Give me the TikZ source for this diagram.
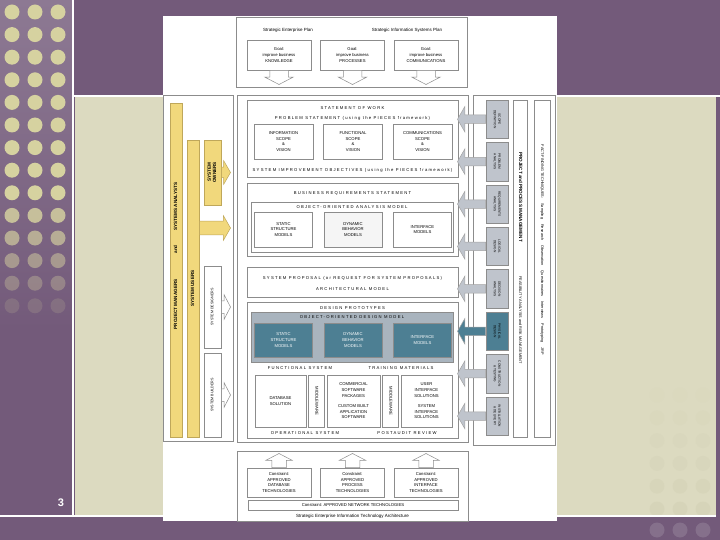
\documentclass[tikz,border=0pt]{standalone}
\usepackage{fontspec}
\setmainfont{Liberation Sans}
\newfontfamily\spacedfont[LetterSpace=30]{Liberation Sans}
\usepackage{graphicx}
\usetikzlibrary{shapes.geometric, shapes.arrows, positioning}

% colours
\definecolor{slidepurple}{HTML}{735A7A}
\definecolor{striptop}{HTML}{8D7993}
\definecolor{stripmid}{HTML}{A797AB}
\definecolor{slidebeige}{HTML}{DCDAC0}
\definecolor{dotkhaki}{HTML}{D6D2A0}
\definecolor{dotbeige}{HTML}{CBC9AC}
\definecolor{dotpurple}{HTML}{85708B}
\definecolor{framegray}{HTML}{8C8C8C}
\definecolor{phasegray}{HTML}{BFC4CC}
\definecolor{tealbox}{HTML}{4D7F93}
\definecolor{designbg}{HTML}{A9B4BE}
\definecolor{roleyellow}{HTML}{F1D87C}
\definecolor{roleedge}{HTML}{BFA75A}

\newcommand{\vtext}[2]{\rotatebox{#1}{\begin{tabular}{@{}c@{}}#2\end{tabular}}}
\newcommand{\boxfont}{\fontsize{4.2}{5.8}\selectfont}
\newcommand{\headfont}{\fontsize{4.2}{5}\spacedfont}

\tikzstyle{frame} = [draw=framegray, line width=0.6pt]
\tikzstyle{box} = [rectangle, draw=framegray, fill=white, line width=0.5pt, inner sep=0pt, align=center, font=\boxfont]
\tikzstyle{stage} = [box, minimum width=211pt]
\tikzstyle{goalbox} = [box, minimum width=64pt, minimum height=30pt]
\tikzstyle{scopebox} = [box, minimum width=59pt, minimum height=35pt]
\tikzstyle{modelbox} = [box, minimum width=58pt, minimum height=35pt]
\tikzstyle{tealmodel} = [box, fill=tealbox, text=white, minimum width=58pt, minimum height=34pt]
\tikzstyle{constraintbox} = [box, minimum width=64pt, minimum height=29pt]
\tikzstyle{heading} = [inner sep=0pt, font=\headfont]
\tikzstyle{caption} = [inner sep=0pt, font=\fontsize{4.5}{5.5}\selectfont]
\tikzstyle{rolebar} = [rectangle, draw=roleedge, fill=roleyellow, line width=0.5pt, inner sep=0pt, minimum width=12pt, font=\bfseries\fontsize{4.6}{5.2}\selectfont]
\tikzstyle{rolebox} = [rectangle, draw=framegray, fill=white, line width=0.5pt, inner sep=0pt, minimum width=17pt, font=\fontsize{3.6}{4.4}\selectfont]
\tikzstyle{phase} = [rectangle, draw=framegray, fill=phasegray, line width=0.5pt, inner sep=0pt, minimum width=22pt, minimum height=38.5pt, font=\fontsize{3.2}{4.5}\selectfont]
\tikzstyle{strip} = [rectangle, draw=framegray, fill=white, line width=0.5pt, inner sep=0pt, minimum height=337pt]
\tikzstyle{striptext} = [inner sep=0pt, font=\fontsize{3.8}{4.5}\selectfont]
\tikzstyle{blockarrow} = [single arrow, inner xsep=0pt, line width=0.5pt, single arrow tip angle=120, anchor=tail]
\tikzstyle{phasearrow} = [blockarrow, draw=framegray!80, fill=phasegray, inner ysep=4pt, single arrow head extend=8.5pt, minimum height=28pt, rotate=180]
\tikzstyle{hollowarrow} = [blockarrow, draw=framegray, fill=white, single arrow tip angle=125, minimum height=14pt]
\tikzstyle{yellowarrow} = [blockarrow, draw=roleedge, fill=roleyellow]

\begin{document}
\begin{tikzpicture}[x=1pt, y=-1pt]
\useasboundingbox (0,0) rectangle (720,540);

% Slide background
\fill[slidepurple] (0,0) rectangle (720,540);
\fill[slidebeige] (75,97) rectangle (716,515);
\shade[top color=striptop, middle color=stripmid, bottom color=slidepurple] (0,0) rectangle (72,330);
\foreach \row in {0,...,13} {
  \pgfmathsetmacro\fade{min(1,(14-\row)/6)}
  \foreach \col in {12,35,58}
    \fill[dotkhaki, opacity=\fade] (\col,{12+22.6*\row}) circle (7.5pt);
}
\foreach \row in {0,...,5} {
  \pgfmathsetmacro\fade{0.05+0.05*\row}
  \foreach \col in {657,680,703}
    \fill[dotbeige, opacity=\fade] (\col,{395+22.8*\row}) circle (7.5pt);
}
\foreach \col in {657,680,703}
  \fill[dotpurple] (\col,530) circle (7.5pt);
\draw[white, line width=2pt] (73,0) -- (73,516);
\draw[white, line width=2pt] (74,96) -- (720,96);
\draw[white, line width=2pt] (0,516) -- (716,516);
\node[text=white, font=\bfseries\fontsize{11}{12}\selectfont] (pagenum) at (61,503) {3};

% Diagram sheet
\fill[white] (163,16) rectangle (557,521);

% Strategic plans
\draw[frame] (236,17) rectangle (467,87);
\node[caption] (entplan) at (288,30) {Strategic Enterprise Plan};
\node[caption] (isplan) at (407,30) {Strategic Information Systems Plan};
\node[goalbox] (goalproc) at (352.5,55) {Goal:\\improve business\\PROCESSES};
\node[goalbox, left=9pt of goalproc] (goalknow) {Goal:\\improve business\\KNOWLEDGE};
\node[goalbox, right=9pt of goalproc] (goalcomm) {Goal:\\improve business\\COMMUNICATIONS};
\foreach \g in {goalknow, goalproc, goalcomm}
  \node[hollowarrow, inner ysep=9pt, single arrow head extend=5pt, rotate=-90] (\g arrow) at (\g.south) {};

% Roles
\draw[frame] (163,95) rectangle (233,441);
\node[rolebar, minimum height=334pt] (pmsa) at (176,270) {};
\node[rolebar, draw=none, fill=none] (pmsatext) at (176,256) {\vtext{90}{PROJECT MANAGERS\hspace{26pt}and\hspace{15pt}SYSTEMS ANALYSTS}};
\node[rolebar, minimum height=297pt] (users) at (193,288.5) {\vtext{90}{SYSTEM USERS}};
\node[rolebar, minimum width=17pt, minimum height=65pt] (owners) at (212.5,172.5) {\vtext{90}{SYSTEM\\OWNERS}};
\node[rolebox, minimum height=82pt] (designers) at (212.5,307) {\vtext{90}{SYSTEM DESIGNERS}};
\node[rolebox, minimum height=84pt] (builders) at (212.5,395) {\vtext{90}{SYSTEM BUILDERS}};
\node[yellowarrow, inner ysep=5pt, single arrow head extend=6.5pt, minimum height=9pt] (ownersarrow) at (owners.east) {};
\node[yellowarrow, inner ysep=6.5pt, single arrow head extend=5.5pt, minimum height=31pt] (usersarrow) at ([yshift=60.5pt]users.east) {};
\node[hollowarrow, inner ysep=6pt, single arrow head extend=6pt, minimum height=9pt] (designersarrow) at (designers.east) {};
\node[hollowarrow, inner ysep=6pt, single arrow head extend=6pt, minimum height=9pt] (buildersarrow) at (builders.east) {};

% Statement of work
\draw[frame] (237,95) rectangle (468,442);
\node[stage, minimum height=77pt] (sow) at (352.5,138.5) {};
\node[heading] (sowtitle) at (352.5,108) {STATEMENT OF WORK};
\node[heading] (problem) at (352.5,118) {PROBLEM STATEMENT (using the PIECES framework)};
\node[scopebox] (funcscope) at (353,141.5) {FUNCTIONAL\\SCOPE\\\&\\VISION};
\node[scopebox, left=10pt of funcscope] (infoscope) {INFORMATION\\SCOPE\\\&\\VISION};
\node[scopebox, right=10pt of funcscope] (commscope) {COMMUNICATIONS\\SCOPE\\\&\\VISION};
\node[heading] (objectives) at (352.5,170) {SYSTEM IMPROVEMENT OBJECTIVES (using the PIECES framework)};

% Business requirements
\node[stage, minimum height=73pt] (brs) at (352.5,219.5) {};
\node[heading] (brstitle) at (352.5,193) {BUSINESS REQUIREMENTS STATEMENT};
\node[box, minimum width=202pt, minimum height=50pt] (ooa) at (352,227) {};
\node[heading] (ooatitle) at (352,207) {OBJECT-ORIENTED ANALYSIS MODEL};
\node[modelbox, fill=gray!8] (dynamicA) at (353,229.5) {DYNAMIC\\BEHAVIOR\\MODELS};
\node[modelbox, left=11pt of dynamicA] (staticA) {STATIC\\STRUCTURE\\MODELS};
\node[modelbox, right=11pt of dynamicA] (interfaceA) {INTERFACE\\MODELS};

% System proposal
\node[stage, minimum height=30pt] (proposal) at (352.5,282) {};
\node[heading] (proposaltitle) at (352.5,278.5) {SYSTEM PROPOSAL (or REQUEST FOR SYSTEM PROPOSALS)};
\node[heading] (archmodel) at (352.5,289.5) {ARCHITECTURAL MODEL};

% Design and construction
\node[stage, minimum height=136pt] (prototypes) at (352.5,370) {};
\node[heading] (prototypestitle) at (352.5,308) {DESIGN PROTOTYPES};
\node[box, fill=designbg, minimum width=202pt, minimum height=50pt] (ood) at (352,337) {};
\node[heading] (oodtitle) at (352,317.5) {OBJECT-ORIENTED DESIGN MODEL};
\node[tealmodel] (dynamicD) at (353,340) {DYNAMIC\\BEHAVIOR\\MODELS};
\node[tealmodel, left=11pt of dynamicD] (staticD) {STATIC\\STRUCTURE\\MODELS};
\node[tealmodel, right=11pt of dynamicD] (interfaceD) {INTERFACE\\MODELS};
\node[heading] (funcsys) at (300,368) {FUNCTIONAL SYSTEM};
\node[heading] (training) at (401,368) {TRAINING MATERIALS};
\node[box, minimum width=51pt, minimum height=52pt] (dbsol) at (280.5,401) {DATABASE\\SOLUTION};
\node[box, minimum width=16pt, minimum height=52pt, right=2pt of dbsol] (mwA) {\vtext{-90}{MIDDLEWARE}};
\node[box, minimum width=53pt, minimum height=52pt, right=2pt of mwA] (software) {COMMERCIAL\\SOFTWARE\\PACKAGES\\[4pt]CUSTOM BUILT\\APPLICATION\\SOFTWARE};
\node[box, minimum width=16pt, minimum height=52pt, right=2pt of software] (mwB) {\vtext{-90}{MIDDLEWARE}};
\node[box, minimum width=51pt, minimum height=52pt, right=2pt of mwB] (interfacesol) {USER\\INTERFACE\\SOLUTIONS\\[4pt]SYSTEM\\INTERFACE\\SOLUTIONS};
\node[heading] (opsys) at (305,433) {OPERATIONAL SYSTEM};
\node[heading] (postaudit) at (407,433) {POSTAUDIT REVIEW};

% Phases
\draw[frame] (473,95) rectangle (555,445);
\foreach \name/\phasefill/\phasetext [count=\i from 0] in {
    scope/phasegray/{SCOPE\\DEFINITION},
    problemA/phasegray/{PROBLEM\\ANALYSIS},
    requirements/phasegray/{REQUIREMENTS\\ANALYSIS},
    logical/phasegray/{LOGICAL\\DESIGN},
    decision/phasegray/{DECISION\\ANALYSIS},
    physical/tealbox/{PHYSICAL\\DESIGN},
    construction/phasegray/{CONSTRUCTION\\\& TESTING},
    installation/phasegray/{INSTALLATION\\\& DELIVERY}}
{
  \node[phase, fill=\phasefill] (\name) at (497,{119.25+42.4*\i}) {\vtext{-90}{\phasetext}};
  \node[phasearrow, fill=\phasefill] (\name arrow) at (\name.west) {};
}

% Management and fact-finding
\node[strip, minimum width=14pt] (ppm) at (520,268.5) {};
\node[striptext, font=\bfseries\fontsize{4.6}{5}\selectfont] (ppmtop) at (520,197) {\vtext{-90}{PROJECT and PROCESS MANAGEMENT}};
\node[striptext] (ppmbottom) at (520,320) {\vtext{-90}{FEASIBILITY ANALYSIS and RISK MANAGEMENT}};
\node[strip, minimum width=16pt] (factfinding) at (542,268.5) {};
\node[striptext] (techniques) at (542,250) {\vtext{-90}{FACT-FINDING TECHNIQUES:\hspace{5pt}Sampling\hspace{5pt}Research\hspace{5pt}Observation\hspace{5pt}Questionnaires\hspace{5pt}Interviews\hspace{5pt}Prototyping\hspace{5pt}JRP}};

% Architecture
\draw[frame] (237,451) rectangle (468,521);
\node[constraintbox] (procconst) at (352.5,482.5) {Constraint:\\APPROVED\\PROCESS\\TECHNOLOGIES};
\node[constraintbox, left=9pt of procconst] (dataconst) {Constraint:\\APPROVED\\DATABASE\\TECHNOLOGIES};
\node[constraintbox, right=9pt of procconst] (ifaceconst) {Constraint:\\APPROVED\\INTERFACE\\TECHNOLOGIES};
\foreach \c in {dataconst, procconst, ifaceconst}
  \node[hollowarrow, inner ysep=7pt, single arrow head extend=6pt, rotate=90] (\c arrow) at (\c.north) {};
\node[box, minimum width=210pt, minimum height=10pt] (netconst) at (353,505) {Constraint: APPROVED NETWORK TECHNOLOGIES};
\node[caption] (itarch) at (352.5,516) {Strategic Enterprise Information Technology Architecture};
\end{tikzpicture}
\end{document}
